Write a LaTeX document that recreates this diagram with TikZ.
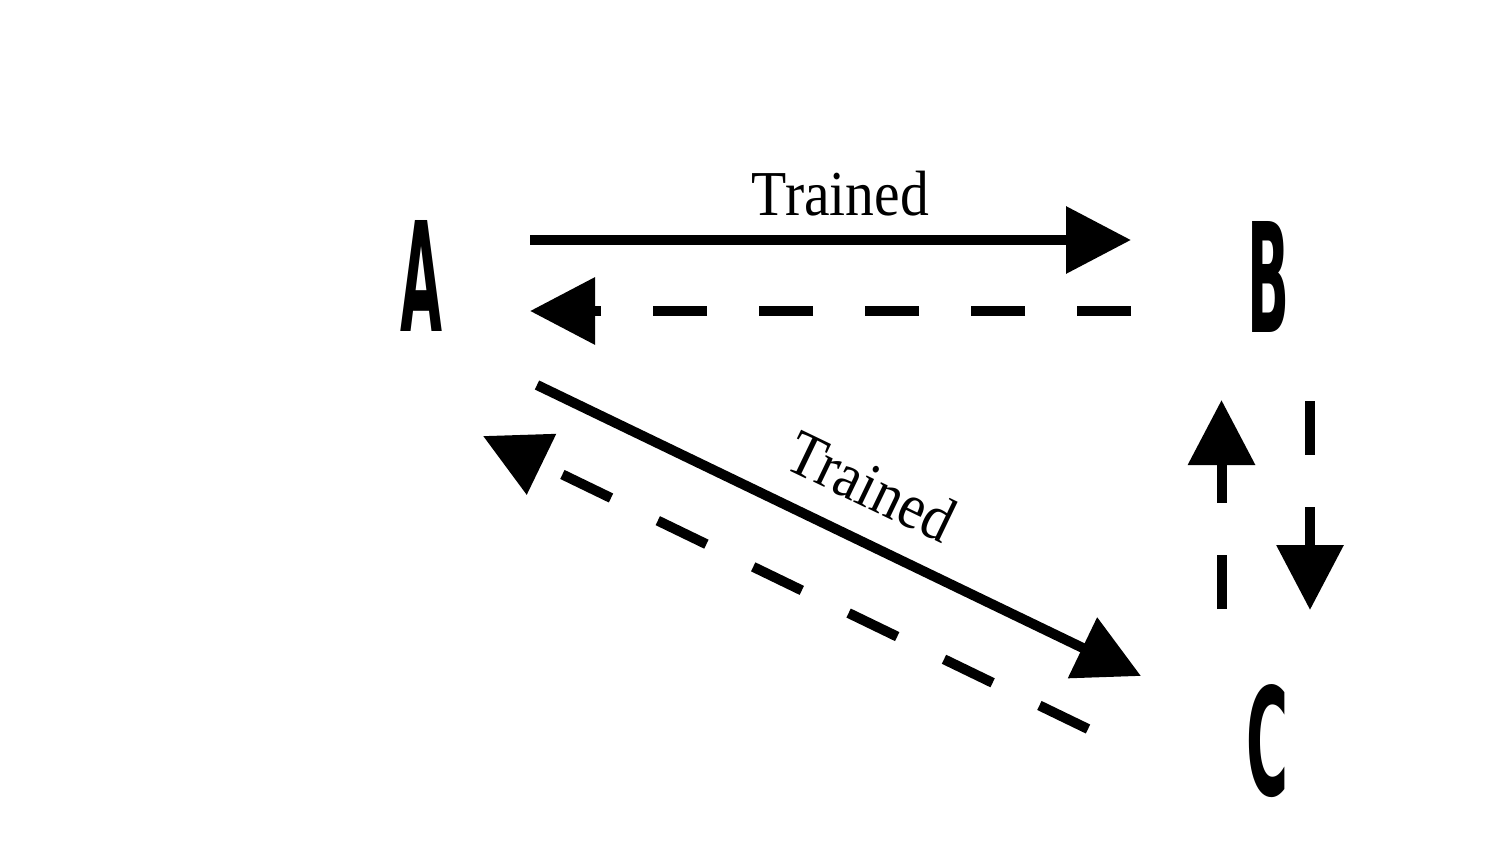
\documentclass[tikz,border=0pt]{standalone}
\usepackage{fontspec}
\usepackage{graphicx}
\setmainfont{Liberation Serif}
\newfontfamily\letterfont{DejaVu Sans}
\usetikzlibrary{arrows.meta}
\tikzset{
  letter/.style={inner sep=0pt, text=black},
  label/.style={inner sep=0pt, font=\fontsize{64}{64}\selectfont},
  solidarrow/.style={line width=10pt, -{Triangle[length=65pt,width=65pt]}},
  dasharrow/.style={line width=10pt, dash pattern=on 54pt off 52pt, -{Triangle[length=65pt,width=65pt]}},
}
\newcommand{\bigletter}[1]{\resizebox{42pt}{111pt}{\letterfont\bfseries #1}}
\begin{document}
\begin{tikzpicture}[x=1pt,y=-1pt]
\useasboundingbox (0,0) rectangle (1488,850);
\node[letter] (A) at (421,276) {\bigletter{A}};
\node[letter] (B) at (1268,277) {\bigletter{B}};
\node[letter] (C) at (1267,741) {\bigletter{C}};
% end points
\coordinate (ab1) at (530,240);
\coordinate (ab2) at (1131,240);
\coordinate (ba1) at (1131,311);
\coordinate (ba2) at (530,311);
\coordinate (ac1) at (537,385);
\coordinate (ac2) at (1141,676);
\coordinate (ca1) at (1088,729);
\coordinate (ca2) at (483,436);
\coordinate (cb1) at (1221.5,609);
\coordinate (cb2) at (1221.5,400);
\coordinate (bc1) at (1310,401);
\coordinate (bc2) at (1310,610);
% connectors
\draw[solidarrow] (ab1) -- (ab2);
\draw[dasharrow] (ba1) -- (ba2);
\draw[solidarrow] (ac1) -- (ac2);
\draw[dasharrow] (ca1) -- (ca2);
\draw[dasharrow] (cb1) -- (cb2);
\draw[dasharrow] (bc1) -- (bc2);
% labels
\node[label] (t1) at (840.5,193.5) {\scalebox{0.9}[1]{Trained}};
\node[label, rotate=-25.7] (t2) at (872,486) {\scalebox{0.9}[1]{Trained}};
\end{tikzpicture}
\end{document}
